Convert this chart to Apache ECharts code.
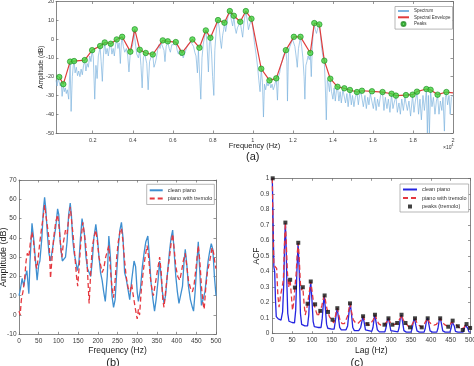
<!DOCTYPE html>
<html><head><meta charset="utf-8">
<script src="https://cdn.jsdelivr.net/npm/echarts@6/dist/echarts.min.js"></script>
<style>html,body{margin:0;padding:0;background:#fff}#c{width:474px;height:366px}</style>
</head><body><div id="c"></div>
<script>
// ---------- Panel (a): spectrum, spectral envelope, peaks (frequency in x10^4 Hz, dB) ----------
const spectrumA = [[0.0165,-22],[0.022,-25],[0.027,-21],[0.033,-20.5],[0.038,-25],[0.043,-23],[0.047,-30.5],[0.053,-24.5],[0.058,-28],[0.063,-26],[0.068,-29],[0.073,-27],[0.080,-32],[0.087,-12.5],[0.092,-38.5],[0.098,-20],[0.103,-14],[0.107,-12],[0.112,-18],[0.118,-15],[0.124,-19.5],[0.13,-17],[0.136,-20],[0.142,-16],[0.148,-19],[0.154,-14],[0.16,-11.5],[0.166,-17],[0.172,-13],[0.178,-15],[0.185,-9],[0.191,-12],[0.197,-6],[0.203,-10],[0.21,-32],[0.216,-14],[0.222,-21],[0.228,-9],[0.232,-7],[0.237,-4],[0.242,-12],[0.248,-22.5],[0.254,-8],[0.26,-2],[0.266,-8],[0.272,-5],[0.278,-9],[0.284,-4],[0.29,-2.7],[0.296,-8],[0.302,-5],[0.308,-9],[0.314,-3],[0.32,-0.5],[0.326,-5],[0.332,-2],[0.338,-13],[0.343,-2],[0.347,1],[0.353,-4],[0.36,-7],[0.368,-5],[0.375,-9],[0.381,-17.5],[0.388,-7],[0.394,-5],[0.4,-3],[0.405,4.8],[0.41,5],[0.415,-4],[0.42,-8],[0.428,-10],[0.435,-6],[0.441,-14],[0.447,-26],[0.453,-10],[0.46,-8],[0.465,-7.6],[0.47,-13],[0.477,-27],[0.484,-12],[0.49,-10],[0.495,-9],[0.50,-8.5],[0.506,-15],[0.512,-13],[0.518,-10],[0.524,-6],[0.53,-3],[0.536,-5],[0.542,-2],[0.55,-1],[0.556,-6],[0.561,-12],[0.567,-4],[0.575,-1.5],[0.582,-5],[0.588,-7],[0.595,-3],[0.605,-3],[0.615,-1.8],[0.622,-6],[0.628,-8],[0.635,-5],[0.64,-9],[0.646,-7.5],[0.652,-10],[0.66,-9],[0.668,-5],[0.676,-3],[0.684,-4],[0.69,-1.5],[0.698,-0.5],[0.704,-4],[0.71,-7],[0.716,-9],[0.723,-18],[0.728,-6],[0.733,-5],[0.74,-32],[0.746,-10],[0.752,-3],[0.758,1],[0.765,4.5],[0.77,-1],[0.778,-17.5],[0.783,-2],[0.788,0.5],[0.794,-8],[0.799,-20],[0.805,-30],[0.81,-6],[0.816,3],[0.821,8],[0.826,10],[0.832,6],[0.838,-1],[0.843,-5],[0.849,2],[0.854,5],[0.858,8.5],[0.864,4],[0.87,8],[0.876,12],[0.885,14.8],[0.893,10],[0.899,7],[0.905,12],[0.911,6],[0.917,3],[0.923,6],[0.93,7],[0.937,9],[0.943,5],[0.949,1],[0.955,8],[0.96,12],[0.965,14.8],[0.972,10],[0.978,5],[0.985,8],[0.993,10.5],[1.0,6],[1.008,-2],[1.016,-8],[1.024,-15],[1.03,-22],[1.036,-28],[1.042,-16],[1.048,-23],[1.053,-41.5],[1.058,-24],[1.064,-27],[1.07,-23],[1.076,-25],[1.083,-22.5],[1.09,-26],[1.096,-24],[1.102,-27],[1.108,-25],[1.117,-21],[1.123,-32.5],[1.128,-20],[1.134,-18],[1.14,-14],[1.146,-12],[1.152,-9],[1.158,-8],[1.165,-6],[1.17,-12],[1.173,-33],[1.178,-7],[1.185,-4],[1.192,-2],[1.198,0],[1.205,1],[1.21,-4],[1.216,-9],[1.222,-15],[1.228,-5],[1.233,-2],[1.238,1],[1.244,-4],[1.25,-10],[1.256,-20],[1.26,-32],[1.265,-14],[1.27,-12],[1.276,-9],[1.282,-11],[1.287,-8],[1.292,-20],[1.297,-4],[1.302,4],[1.307,8],[1.312,5],[1.318,3],[1.325,6],[1.332,7.5],[1.338,2],[1.344,-5],[1.35,-9],[1.357,-12],[1.362,-25],[1.367,-43],[1.372,-22],[1.378,-24],[1.383,-28],[1.387,-21.5],[1.393,-28],[1.4,-32],[1.406,-26],[1.412,-33],[1.418,-27],[1.423,-25.5],[1.43,-33],[1.436,-28],[1.442,-34],[1.45,-27],[1.457,-26.5],[1.463,-34],[1.47,-29],[1.476,-36],[1.485,-27.5],[1.492,-35],[1.498,-30],[1.505,-36],[1.512,-31],[1.52,-28.5],[1.527,-35],[1.533,-30],[1.54,-28],[1.545,-27.8],[1.552,-36],[1.56,-30],[1.567,-37],[1.574,-31],[1.58,-35],[1.587,-29],[1.595,-28],[1.602,-37],[1.609,-31],[1.616,-38],[1.623,-32],[1.63,-36],[1.638,-30],[1.648,-28.5],[1.655,-38],[1.662,-31],[1.67,-37],[1.677,-32],[1.685,-39],[1.693,-29.5],[1.7,-37],[1.708,-33],[1.715,-30.5],[1.722,-39],[1.73,-34],[1.737,-40],[1.744,-32],[1.752,-38],[1.76,-31],[1.765,-30],[1.772,-38],[1.78,-33],[1.788,-41],[1.798,-30],[1.805,-39],[1.812,-33],[1.82,-28.5],[1.828,-40],[1.835,-32],[1.842,-43],[1.85,-30],[1.857,-38],[1.867,-27],[1.872,-50],[1.877,-30],[1.882,-50],[1.888,-27.5],[1.895,-36],[1.902,-31],[1.91,-40],[1.917,-33],[1.923,-30],[1.93,-40],[1.937,-33],[1.944,-38],[1.95,-31],[1.957,-49],[1.962,-31],[1.967,-28.7],[1.973,-35],[1.98,-30],[1.986,-40],[1.992,-31],[2.0,-30]];
const peaksA = [[0.033,-20.2],[0.053,-24],[0.087,-12],[0.107,-11.7],[0.16,-11.2],[0.197,-5.9],[0.237,-3.7],[0.26,-1.8],[0.29,-2.5],[0.32,-0.2],[0.347,1.2],[0.388,-6.7],[0.41,5.2],[0.435,-5.7],[0.465,-7.4],[0.50,-8.2],[0.55,-0.7],[0.575,-1.2],[0.615,-1.6],[0.646,-7.3],[0.698,-0.2],[0.733,-4.6],[0.765,4.6],[0.788,0.7],[0.826,10.1],[0.858,8.7],[0.885,14.9],[0.905,12.4],[0.937,9.2],[0.965,14.9],[0.993,10.8],[1.042,-15.8],[1.083,-22],[1.117,-20.9],[1.165,-5.9],[1.205,1.2],[1.238,1.2],[1.287,-7.4],[1.307,8.5],[1.332,7.8],[1.357,-11.5],[1.387,-21.1],[1.423,-25.4],[1.457,-26.2],[1.485,-27.1],[1.52,-28.2],[1.545,-27.5],[1.595,-27.8],[1.648,-28.2],[1.693,-29.1],[1.715,-30.1],[1.765,-29.8],[1.798,-29.6],[1.82,-28],[1.867,-26.6],[1.888,-27],[1.923,-29.6],[1.967,-28.2]];
const envelopeEndA = [[2.0,-28.6]];
const xTicksA = [0.2,0.4,0.6,0.8,1,1.2,1.4,1.6,1.8,2];

// ---------- Panel (b): amplitude spectra (Hz, dB) ----------
const cleanB = [[0,10],[4,14],[8,19],[12,15],[16,20],[20,23],[25,11],[28,28],[33,47.5],[37,40],[42,28],[46,18],[50,26],[53,28],[58,40],[62,55],[65,61],[68,55],[72,42],[76,32],[80,28],[84,33],[88,32],[93,45],[98,55],[101,52],[104,40],[107,33],[110,28],[114,29],[118,30],[122,38],[126,52],[130,58],[133,52],[136,40],[140,32],[144,28],[148,23],[152,27],[156,40],[160,50],[163,51],[166,42],[170,30],[174,24],[178,22],[182,20],[186,28],[190,40],[195,47],[199,40],[203,30],[207,22],[211,18],[215,12],[219,7],[224,20],[228,41],[232,30],[236,10],[240,4],[244,8],[248,22],[252,35],[256,44],[260,48],[264,40],[268,22],[272,19],[276,14],[281,8],[286,18],[292,28],[296,25],[300,12],[303,7],[308,13],[313,25],[318,33],[322,38],[327,41],[331,30],[335,17],[340,8],[344,2],[348,8],[353,18],[357,28],[361,29],[364,12],[368,6],[372,10],[377,22],[382,33],[386,40],[390,44],[394,32],[398,20],[402,12],[406,6],[411,6],[415,15],[419,28],[422,34],[426,26],[430,15],[435,8],[440,4],[443,2],[447,12],[451,25],[455,38],[459,22],[463,5],[467,8],[472,12],[476,20],[480,28],[484,33],[488,37],[492,34],[496,20],[500,10]];
const tremoloB = [[0,2],[3,0],[6,8],[10,12],[14,18],[18,28],[21,32],[25,30],[29,38],[33,43],[37,38],[41,28],[45,24],[49,30],[53,38],[58,46],[62,52],[65,57],[68,52],[72,46],[76,40],[80,19],[84,30],[88,40],[93,48],[98,52],[102,45],[106,35],[109,30],[113,38],[118,44],[122,42],[126,50],[130,56],[134,48],[138,40],[142,30],[146,20],[149,15],[153,26],[157,38],[162,48],[166,42],[169,37],[172,30],[175,18],[178,6],[182,22],[186,35],[190,40],[195,44],[199,38],[203,30],[207,26],[211,22],[215,24],[220,30],[224,33],[228,36],[232,24],[236,14],[240,9],[244,18],[248,30],[252,38],[256,43],[260,45],[264,38],[268,28],[272,20],[277,14],[282,12],[286,16],[290,10],[294,5],[298,0],[300,-2],[303,3],[306,0],[310,12],[315,22],[320,30],[325,36],[329,30],[333,20],[337,14],[341,10],[345,15],[349,20],[353,25],[357,30],[361,22],[365,8],[368,4],[372,12],[377,22],[382,30],[386,37],[390,42],[394,34],[398,25],[403,20],[408,18],[412,22],[417,28],[422,32],[426,25],[430,18],[435,14],[440,12],[444,15],[449,24],[455,36],[459,28],[463,15],[467,6],[470,3],[474,14],[478,22],[482,26],[486,30],[490,35],[494,32],[498,26],[500,24]];

// ---------- Panel (c): autocorrelation (lag Hz, ACF) ----------
const cleanC = [[0,1],[2,0.72],[4,0.43],[6,0.4],[8,0.22],[10,0.11],[15,0.095],[22,0.088],[26,0.14],[29,0.33],[31,0.58],[33,0.71],[35,0.55],[37,0.3],[39,0.13],[42,0.08],[50,0.072],[56,0.07],[59,0.15],[62,0.4],[65,0.58],[68,0.4],[71,0.13],[74,0.06],[82,0.05],[89,0.05],[92,0.12],[95,0.28],[97,0.33],[100,0.22],[103,0.08],[106,0.045],[115,0.04],[123,0.04],[126,0.1],[129,0.2],[131,0.24],[134,0.16],[137,0.06],[140,0.035],[150,0.03],[156,0.03],[159,0.08],[162,0.14],[164,0.16],[167,0.1],[170,0.04],[174,0.025],[186,0.025],[190,0.05],[194,0.15],[197,0.19],[200,0.12],[203,0.04],[207,0.02],[218,0.02],[223,0.04],[227,0.09],[229,0.11],[232,0.07],[235,0.025],[240,0.015],[251,0.015],[254,0.04],[257,0.1],[259,0.12],[262,0.07],[265,0.025],[270,0.012],[284,0.012],[287,0.04],[290,0.085],[293,0.1],[296,0.06],[299,0.02],[304,0.012],[317,0.012],[320,0.04],[323,0.1],[326,0.12],[329,0.07],[332,0.02],[338,0.01],[350,0.01],[353,0.035],[356,0.08],[359,0.095],[362,0.055],[365,0.018],[371,0.01],[383,0.01],[386,0.035],[389,0.085],[392,0.1],[395,0.06],[398,0.018],[404,0.01],[415,0.01],[418,0.035],[421,0.085],[424,0.1],[427,0.06],[430,0.018],[436,0.01],[448,0.01],[451,0.035],[454,0.075],[456,0.085],[459,0.05],[462,0.015],[468,0.01],[481,0.01],[484,0.03],[487,0.055],[490,0.062],[493,0.035],[496,0.012],[500,0.01]];
const tremoloC = [[0,1],[2,0.65],[4,0.44],[8,0.43],[11,0.42],[14,0.25],[17,0.17],[21,0.25],[25,0.3],[28,0.35],[31,0.6],[33,0.715],[35,0.6],[38,0.4],[41,0.3],[45,0.347],[48,0.25],[51,0.15],[54,0.2],[57,0.297],[60,0.38],[63,0.52],[65.5,0.585],[68,0.48],[71,0.32],[74,0.28],[77,0.299],[80,0.2],[83,0.12],[86,0.15],[89,0.193],[94,0.28],[97,0.336],[100,0.28],[104,0.2],[108,0.189],[111,0.14],[115,0.11],[118,0.13],[121,0.147],[125,0.18],[128,0.22],[132,0.246],[135,0.2],[138,0.16],[140.5,0.14],[144,0.11],[148,0.095],[152,0.09],[155,0.07],[159,0.11],[162,0.15],[164,0.164],[167,0.13],[171,0.085],[176,0.065],[182,0.065],[187,0.075],[191,0.12],[194,0.17],[196,0.195],[200,0.14],[204,0.09],[210,0.07],[216,0.065],[221,0.07],[225,0.09],[229,0.112],[233,0.085],[237,0.065],[240,0.062],[245,0.055],[250,0.06],[255,0.09],[259,0.122],[263,0.095],[268,0.065],[274,0.055],[283,0.058],[287,0.065],[290,0.08],[293,0.099],[297,0.075],[303,0.058],[309,0.06],[315,0.069],[320,0.08],[323,0.1],[326,0.122],[330,0.09],[336,0.069],[342,0.05],[347.5,0.041],[352,0.055],[356,0.075],[360,0.099],[364,0.075],[370,0.055],[377,0.041],[382,0.055],[387,0.08],[392,0.099],[396,0.075],[402,0.06],[408,0.055],[414,0.06],[419,0.08],[423.5,0.099],[428,0.075],[434,0.06],[440,0.05],[444,0.045],[449,0.06],[452,0.075],[455,0.084],[459,0.065],[464,0.055],[468,0.048],[472,0.04],[476,0.03],[480.5,0.024],[484,0.04],[487,0.055],[490,0.062],[494,0.05],[499,0.037],[500,0.04]];
const peaksC = [[1,1.0],[33,0.715],[45,0.347],[57,0.297],[65.5,0.585],[77,0.299],[89,0.193],[97,0.336],[108,0.189],[121,0.147],[132,0.246],[140.5,0.14],[152,0.09],[164,0.164],[196,0.195],[229,0.112],[240,0.062],[259,0.122],[283,0.058],[293,0.099],[303,0.058],[315,0.069],[326,0.122],[336,0.069],[347.5,0.041],[360,0.099],[377,0.041],[392,0.099],[423.5,0.099],[444,0.045],[455,0.084],[468,0.048],[480.5,0.024],[490,0.062],[499,0.037]];

// ---------- chart ----------
const FONT = '"Liberation Sans", Arial, Helvetica, sans-serif';
const AXC = '#6a6a6a', TXC = '#3a3a3a';
const chart = echarts.init(document.getElementById('c'), null, {renderer: 'canvas'});

function xAx(grid, pos, o) {
  const main = pos === 'bottom';
  return Object.assign({
    type: 'value', gridIndex: grid, position: pos,
    axisLine: {show: true, onZero: false, lineStyle: {color: AXC, width: 0.8}},
    axisTick: {show: true, inside: true, length: 2.5, lineStyle: {color: AXC, width: 0.7}},
    axisLabel: {show: main, color: TXC, fontFamily: FONT, showMinLabel: true, showMaxLabel: true, hideOverlap: false},
    splitLine: {show: false},
    nameLocation: 'middle', nameMoveOverlap: false,
    nameTextStyle: {color: '#222', fontFamily: FONT}
  }, o);
}
function yAx(grid, pos, o) {
  const main = pos === 'left';
  return Object.assign({
    type: 'value', gridIndex: grid, position: pos,
    axisLine: {show: true, onZero: false, lineStyle: {color: AXC, width: 0.8}},
    axisTick: {show: true, inside: true, length: 2.5, lineStyle: {color: AXC, width: 0.7}},
    axisLabel: {show: main, color: TXC, fontFamily: FONT, showMinLabel: true, showMaxLabel: true, hideOverlap: false},
    splitLine: {show: false},
    nameLocation: 'middle', nameRotate: 90, nameMoveOverlap: false,
    nameTextStyle: {color: '#222', fontFamily: FONT}
  }, o);
}
const fmtA = v => String(Math.round(v * 10) / 10);
const xA = {min: 0.0165, max: 2};
const noSym = n => ({name: n, itemStyle: {opacity: 0}});
const option = {
  animation: false,
  backgroundColor: '#fff',
  grid: [
    {left: 56, top: 1.5, width: 397, height: 131.5, outerBoundsMode: 'none', containLabel: false},
    {left: 19, top: 180, width: 197, height: 154.3, outerBoundsMode: 'none', containLabel: false},
    {left: 272.3, top: 178.3, width: 198.2, height: 155.4, outerBoundsMode: 'none', containLabel: false}
  ],
  xAxis: [
    xAx(0, 'bottom', Object.assign({}, xA, {
      name: 'Frequency (Hz)', nameGap: 9, nameTextStyle: {fontSize: 7.5, color: '#222', fontFamily: FONT},
      axisTick: {show: true, inside: true, length: 2.5, customValues: xTicksA, lineStyle: {color: AXC, width: 0.7}},
      axisLabel: {show: true, customValues: xTicksA, formatter: fmtA, fontSize: 5.5, margin: 4.5, color: TXC, fontFamily: FONT}
    })),
    xAx(0, 'top', Object.assign({}, xA, {
      axisTick: {show: true, inside: true, length: 2.5, customValues: xTicksA, lineStyle: {color: AXC, width: 0.7}}
    })),
    xAx(1, 'bottom', {min: 0, max: 500, interval: 50, name: 'Frequency (Hz)', nameGap: 11.5,
      nameTextStyle: {fontSize: 8.5, color: '#222', fontFamily: FONT},
      axisLabel: {fontSize: 6.5, margin: 3, color: TXC, fontFamily: FONT, showMinLabel: true, showMaxLabel: true}}),
    xAx(1, 'top', {min: 0, max: 500, interval: 50}),
    xAx(2, 'bottom', {min: 0, max: 500, interval: 50, name: 'Lag (Hz)', nameGap: 12.5,
      nameTextStyle: {fontSize: 8.5, color: '#222', fontFamily: FONT},
      axisLabel: {fontSize: 6.5, margin: 3, color: TXC, fontFamily: FONT, showMinLabel: true, showMaxLabel: true}}),
    xAx(2, 'top', {min: 0, max: 500, interval: 50})
  ],
  yAxis: [
    yAx(0, 'left', {min: -50, max: 20, interval: 10, name: 'Amplitude (dB)', nameGap: 11,
      nameTextStyle: {fontSize: 6.5, color: '#222', fontFamily: FONT},
      axisLabel: {fontSize: 5.5, margin: 2, color: TXC, fontFamily: FONT, showMinLabel: true, showMaxLabel: true}}),
    yAx(0, 'right', {min: -50, max: 20, interval: 10}),
    yAx(1, 'left', {min: -10, max: 70, interval: 10, name: 'Amplitude (dB)', nameGap: 10.5,
      nameTextStyle: {fontSize: 9, color: '#222', fontFamily: FONT},
      axisLabel: {fontSize: 6.5, margin: 2.5, color: TXC, fontFamily: FONT, showMinLabel: true, showMaxLabel: true}}),
    yAx(1, 'right', {min: -10, max: 70, interval: 10}),
    yAx(2, 'left', {min: 0, max: 1, interval: 0.1, name: 'ACF', nameGap: 11,
      nameTextStyle: {fontSize: 8.5, color: '#222', fontFamily: FONT},
      axisLabel: {fontSize: 6.5, margin: 3, color: TXC, fontFamily: FONT, showMinLabel: true, showMaxLabel: true,
        formatter: v => (Math.abs(v) < 1e-9 ? '0' : Math.abs(v - 1) < 1e-9 ? '1' : v.toFixed(1))}}),
    yAx(2, 'right', {min: 0, max: 1, interval: 0.1})
  ],
  legend: [
    {data: [noSym('Spectrum'), noSym('Spectral Envelope'), 'Peaks'], orient: 'vertical', left: 395, top: 6.5,
      padding: [2, 2, 2, 2], itemWidth: 11, itemHeight: 4, itemGap: 1.3, backgroundColor: '#fff',
      borderColor: '#999', borderWidth: 0.7, borderRadius: 0, selectedMode: false,
      textStyle: {fontSize: 4.5, color: '#333', fontFamily: FONT}},
    {data: [noSym('b:clean piano'), noSym('b:piano with tremolo')], orient: 'vertical', left: 146.7, top: 184.3,
      padding: [3, 2, 3, 2], itemWidth: 13, itemHeight: 5.5, itemGap: 2.2, backgroundColor: '#fff',
      borderColor: '#999', borderWidth: 0.7, borderRadius: 0, selectedMode: false,
      formatter: n => n.slice(2), textStyle: {fontSize: 5.5, color: '#333', fontFamily: FONT}},
    {data: [noSym('c:clean piano'), noSym('c:piano with tremolo'),
        {name: 'c:peaks (tremolo)', icon: 'path://M0,0L10,0L10,10L0,10Z'}],
      orient: 'vertical', left: 400, top: 184, symbolKeepAspect: true,
      padding: [2.5, 2, 2.5, 2], itemWidth: 14, itemHeight: 4, itemGap: 2.5, backgroundColor: '#fff',
      borderColor: '#999', borderWidth: 0.7, borderRadius: 0, selectedMode: false,
      formatter: n => n.slice(2), textStyle: {fontSize: 5.5, color: '#333', fontFamily: FONT}}
  ],
  series: [
    {name: 'Spectrum', type: 'line', xAxisIndex: 0, yAxisIndex: 0, data: spectrumA, symbol: 'none',
      lineStyle: {color: '#7db3de', width: 0.7}, itemStyle: {color: '#7db3de'}, z: 2},
    {name: 'Spectral Envelope', type: 'line', xAxisIndex: 0, yAxisIndex: 0, data: peaksA.concat(envelopeEndA), symbol: 'none',
      lineStyle: {color: '#e03c3c', width: 1.2}, itemStyle: {color: '#e03c3c'}, z: 3},
    {name: 'Peaks', type: 'scatter', xAxisIndex: 0, yAxisIndex: 0, data: peaksA, symbol: 'circle', symbolSize: 5.5,
      itemStyle: {color: '#3fd63f', borderColor: '#1c8a1c', borderWidth: 0.8}, z: 4},

    {name: 'b:clean piano', type: 'line', xAxisIndex: 2, yAxisIndex: 2, data: cleanB, symbol: 'none',
      lineStyle: {color: '#3f8fd0', width: 1.3}, itemStyle: {color: '#3f8fd0'}, z: 2},
    {name: 'b:piano with tremolo', type: 'line', xAxisIndex: 2, yAxisIndex: 2, data: tremoloB, symbol: 'none',
      lineStyle: {color: '#e5383f', width: 1.3, type: [5, 3]}, itemStyle: {color: '#e5383f'}, z: 3},

    {name: 'c:clean piano', type: 'line', xAxisIndex: 4, yAxisIndex: 4, data: cleanC, symbol: 'none',
      lineStyle: {color: '#2424e0', width: 1.3}, itemStyle: {color: '#2424e0'}, z: 2},
    {name: 'c:piano with tremolo', type: 'line', xAxisIndex: 4, yAxisIndex: 4, data: tremoloC, symbol: 'none',
      lineStyle: {color: '#e5383f', width: 1.3, type: [5, 3]}, itemStyle: {color: '#e5383f'}, z: 3},
    {name: 'c:peaks (tremolo)', type: 'scatter', xAxisIndex: 4, yAxisIndex: 4, data: peaksC, symbol: 'rect', symbolSize: 4,
      itemStyle: {color: '#111'}, z: 4}
  ],
  graphic: [
    {type: 'text', left: 443, top: 145.5, style: {text: '×10', fontSize: 5, fill: '#333', fontFamily: FONT}},
    {type: 'text', left: 451.3, top: 143, style: {text: '4', fontSize: 4, fill: '#333', fontFamily: FONT}},
    {type: 'text', x: 252.7, y: 157.3, style: {text: '(a)', fontSize: 11, fill: '#222', fontFamily: FONT, align: 'center', verticalAlign: 'middle'}},
    {type: 'text', x: 113, y: 362.7, style: {text: '(b)', fontSize: 11, fill: '#222', fontFamily: FONT, align: 'center', verticalAlign: 'middle'}},
    {type: 'text', x: 357, y: 363.3, style: {text: '(c)', fontSize: 11, fill: '#222', fontFamily: FONT, align: 'center', verticalAlign: 'middle'}}
  ]
};
chart.setOption(option);
</script>
</body></html>
